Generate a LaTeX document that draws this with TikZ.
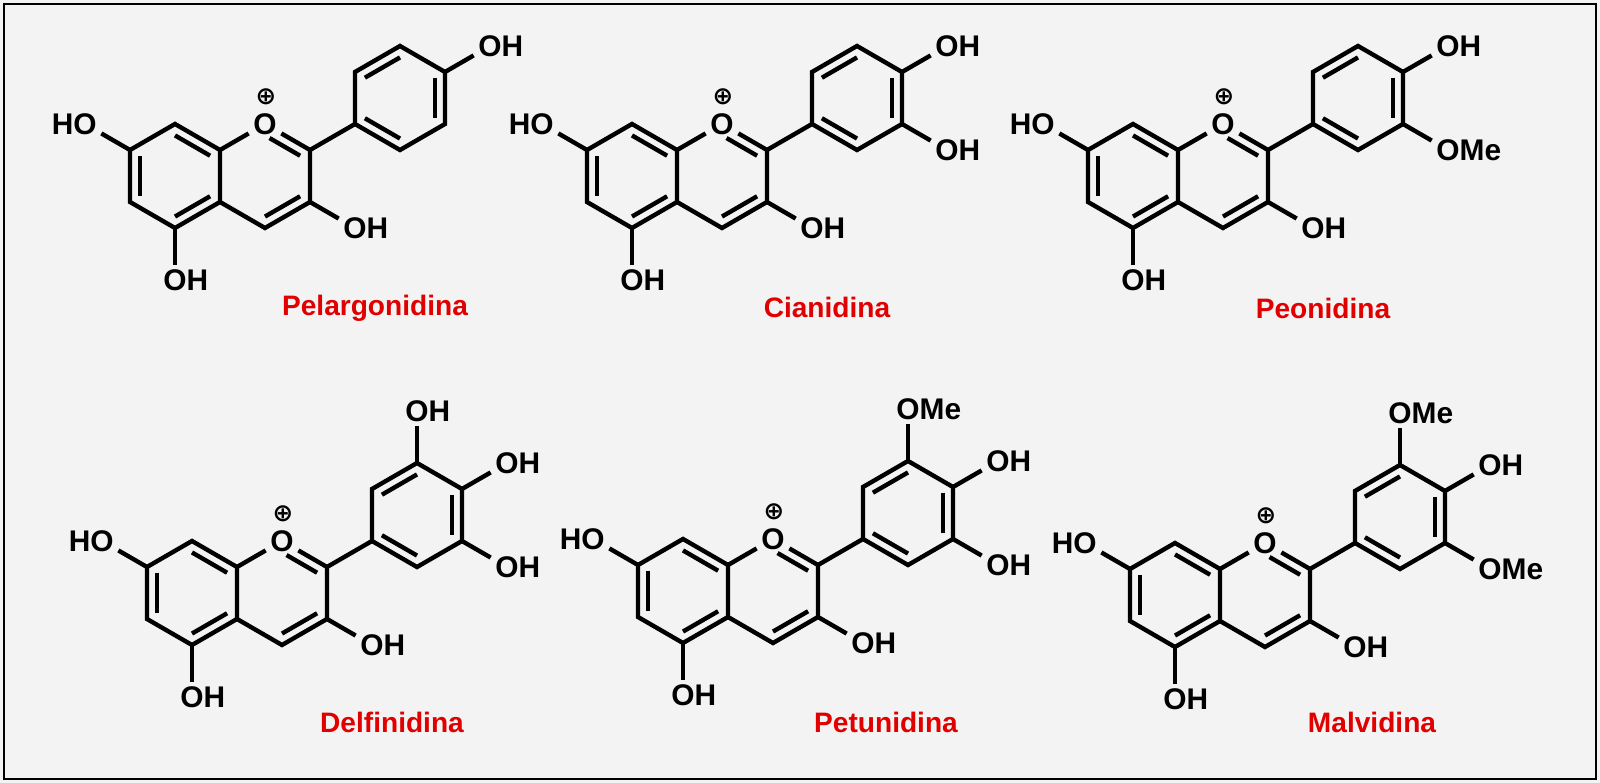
\documentclass[tikz,border=0pt]{standalone}
\usepackage{fontspec}
\setmainfont{Liberation Sans}
\newfontfamily\djv{DejaVu Sans}
\usetikzlibrary{calc}
\definecolor{bgc}{HTML}{F3F3F3}
\definecolor{namered}{HTML}{E00000}
\tikzset{
  bond/.style={line width=2.5pt},
  atom/.style={font=\fontsize{17}{17}\selectfont\bfseries, inner sep=2.5pt},
  molname/.style={font=\fontsize{16}{16}\selectfont\bfseries, text=namered},
  charge/.style={font=\djv\bfseries\fontsize{14}{14}\selectfont, inner sep=0pt}
}
\newcommand\dbl[3]{\draw[bond] ($(#1)!0.22!(#3)$) -- ($(#2)!0.22!(#3)$);}
\newcommand\sub[3]{\node[atom] (#1s) at ($(#1)+(#2)$) {#3}; \draw[bond] (#1) -- (#1s);}
\newcommand\flav[3]{%
\begin{scope}[shift={(#1,#2)}]
  \coordinate (C8a) at (0,0); \coordinate (C8) at (-45,-26); \coordinate (C7) at (-90,0);
  \coordinate (C6) at (-90,52); \coordinate (C5) at (-45,78); \coordinate (C4a) at (0,52);
  \coordinate (O1) at (45,-26); \coordinate (C2) at (90,0); \coordinate (C3) at (90,52);
  \coordinate (C4) at (45,78); \coordinate (cA) at (-45,26); \coordinate (cC) at (45,26);
  \coordinate (B1) at (135,-26); \coordinate (B2) at (135,-78); \coordinate (B3) at (180,-104);
  \coordinate (B4) at (225,-78); \coordinate (B5) at (225,-26); \coordinate (B6) at (180,0);
  \coordinate (cB) at (180,-52);
  \node[atom] (Oa) at (O1) {O};
  \node[charge] (chg) at (46,-53) {⊕};
  \draw[bond] (C8a) -- (C8) -- (C7) -- (C6) -- (C5) -- (C4a) -- cycle;
  \draw[bond] (C4a) -- (C4) -- (C3) -- (C2);
  \draw[bond] (C8a) -- (Oa); \draw[bond] (Oa) -- (C2);
  \draw[bond] (C2) -- (B1);
  \draw[bond] (B1) -- (B2) -- (B3) -- (B4) -- (B5) -- (B6) -- cycle;
  \dbl{C8}{C8a}{cA} \dbl{C7}{C6}{cA} \dbl{C5}{C4a}{cA}
  \draw[bond, shorten <=3pt] ($(O1)!0.22!(cC)$) -- ($(C2)!0.22!(cC)$);
  \dbl{C3}{C4}{cC}
  \dbl{B2}{B3}{cB} \dbl{B4}{B5}{cB} \dbl{B6}{B1}{cB}
  \sub{C7}{-45,-26}{\llap{H}O}
  \sub{C5}{0,52}{O\rlap{H}}
  \sub{C3}{45,26}{O\rlap{H}}
  #3
\end{scope}}
\begin{document}
\begin{tikzpicture}[x=0.02cm, y=-0.02cm]
\fill[bgc] (0,0) rectangle (1600,783);
\useasboundingbox (0,0) rectangle (1600,783);
\draw[line width=0.9pt] (4,4) rectangle (1596,779);
\flav{220}{150}{\sub{B4}{45,-26}{O\rlap{H}}}
\flav{677}{150}{\sub{B4}{45,-26}{O\rlap{H}} \sub{B5}{45,26}{O\rlap{H}}}
\flav{1178}{150}{\sub{B4}{45,-26}{O\rlap{H}} \sub{B5}{45,26}{O\rlap{Me}}}
\flav{237}{567}{\sub{B3}{0,-52}{O\rlap{H}} \sub{B4}{45,-26}{O\rlap{H}} \sub{B5}{45,26}{O\rlap{H}}}
\flav{728}{565}{\sub{B3}{0,-52}{O\rlap{Me}} \sub{B4}{45,-26}{O\rlap{H}} \sub{B5}{45,26}{O\rlap{H}}}
\flav{1220}{569}{\sub{B3}{0,-52}{O\rlap{Me}} \sub{B4}{45,-26}{O\rlap{H}} \sub{B5}{45,26}{O\rlap{Me}}}
\node[molname] (n1) at (375,308) {Pelargonidina};
\node[molname] (n2) at (827,307) {Cianidina};
\node[molname] (n3) at (1323,308) {Peonidina};
\node[molname] (n4) at (392,722) {Delfinidina};
\node[molname] (n5) at (886,722) {Petunidina};
\node[molname] (n6) at (1372,722) {Malvidina};
\end{tikzpicture}
\end{document}
